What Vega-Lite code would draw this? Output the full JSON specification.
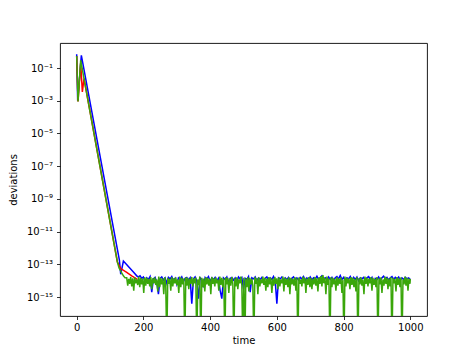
{
 "$schema": "https://vega.github.io/schema/vega-lite/v6.json",
 "width": 367, "height": 273,
 "autosize": {"type": "none"},
 "padding": {"left": 60, "top": 43, "right": 47, "bottom": 39},
 "background": "white",
 "config": {"view": {"stroke": "#000", "strokeWidth": 0.9}, "font": "DejaVu Sans"},
 "datasets": {
  "blue": [
   {"t":0,"v":0.7},{"t":3,"v":1e-3},{"t":14,"v":0.6},{"t":128,"v":1.8e-13},{"t":132,"v":2.5e-14},{"t":140,"v":1.6e-13},{"t":155,"v":7.4e-14},{"t":170,"v":3.4e-14},{"t":180,"v":2e-14},{"t":185,"v":1.7e-14},
   {"t":190,"v":2.0e-14},{"t":195,"v":1.4e-14},{"t":200,"v":1.7e-14},{"t":205,"v":9e-15},{"t":210,"v":1.5e-14},{"t":215,"v":1.2e-14},{"t":220,"v":1.8e-14},{"t":225,"v":2e-15},{"t":230,"v":1.3e-14},{"t":235,"v":1.6e-14},{"t":240,"v":8e-15},{"t":245,"v":1.5e-15},{"t":250,"v":1.4e-14},{"t":255,"v":1.7e-14},{"t":260,"v":1.1e-14},{"t":265,"v":1.5e-14},{"t":270,"v":7e-15},{"t":275,"v":1.6e-14},{"t":280,"v":1.3e-14},{"t":285,"v":1.8e-14},{"t":290,"v":1.0e-14},{"t":295,"v":1.4e-14},{"t":300,"v":6e-15},{"t":305,"v":1.5e-14},{"t":310,"v":1.2e-14},{"t":315,"v":1.7e-14},{"t":320,"v":9e-15},{"t":325,"v":1.4e-14},{"t":330,"v":1.6e-14},{"t":335,"v":1.1e-14},{"t":340,"v":1.5e-14},{"t":345,"v":4e-16},{"t":350,"v":1.3e-14},{"t":355,"v":1.7e-14},{"t":360,"v":1.0e-14},{"t":365,"v":8e-16},{"t":370,"v":1.5e-14},{"t":375,"v":1.2e-14},{"t":380,"v":4e-15},{"t":385,"v":1.6e-14},{"t":390,"v":1.3e-14},{"t":395,"v":1.8e-14},{"t":400,"v":9e-15},{"t":405,"v":1.5e-14},{"t":410,"v":1.2e-14},{"t":415,"v":1.6e-14},{"t":420,"v":1.0e-14},{"t":425,"v":1.4e-14},{"t":430,"v":2.5e-15},{"t":435,"v":8e-16},{"t":440,"v":1.5e-14},{"t":445,"v":1.2e-14},{"t":450,"v":1.7e-14},{"t":455,"v":8e-15},{"t":460,"v":1.4e-14},{"t":465,"v":1.6e-14},{"t":470,"v":1.1e-14},{"t":475,"v":1.5e-14},{"t":480,"v":9e-15},{"t":485,"v":1.7e-14},{"t":490,"v":1.3e-14},{"t":495,"v":1.6e-14},{"t":500,"v":3e-15},{"t":505,"v":1.4e-14},{"t":510,"v":1.2e-14},{"t":515,"v":1.8e-14},{"t":520,"v":2e-15},{"t":525,"v":1.5e-14},{"t":530,"v":1.3e-14},{"t":535,"v":1.7e-14},{"t":540,"v":1.0e-14},{"t":545,"v":1.5e-14},{"t":550,"v":1.2e-14},{"t":555,"v":1.6e-14},{"t":560,"v":9e-15},{"t":565,"v":1.4e-14},{"t":570,"v":1.7e-14},{"t":575,"v":1.1e-14},{"t":580,"v":1.5e-14},{"t":585,"v":1.2e-14},{"t":590,"v":1.8e-14},{"t":595,"v":1.0e-14},{"t":600,"v":4e-16},{"t":605,"v":1.5e-14},{"t":610,"v":1.3e-14},{"t":615,"v":1.7e-14},{"t":620,"v":1.1e-14},{"t":625,"v":1.5e-14},{"t":630,"v":1.2e-14},{"t":635,"v":1.6e-14},{"t":640,"v":1.0e-14},{"t":645,"v":1.4e-14},{"t":650,"v":1.7e-14},{"t":655,"v":1.2e-14},{"t":660,"v":1.5e-14},{"t":665,"v":1.1e-14},{"t":670,"v":1.6e-14},{"t":675,"v":1.3e-14},{"t":680,"v":1.8e-14},{"t":685,"v":1.0e-14},{"t":690,"v":1.5e-14},{"t":695,"v":1.2e-14},{"t":700,"v":1.7e-14},{"t":705,"v":1.1e-14},{"t":710,"v":1.5e-14},{"t":715,"v":1.3e-14},{"t":720,"v":1.9e-14},{"t":725,"v":1.2e-14},{"t":730,"v":1.6e-14},{"t":735,"v":2.0e-14},{"t":740,"v":1.3e-14},{"t":745,"v":1.5e-14},{"t":750,"v":1.1e-14},{"t":755,"v":1.7e-14},{"t":760,"v":1.2e-14},{"t":765,"v":1.6e-14},{"t":770,"v":1.0e-14},{"t":775,"v":1.5e-14},{"t":780,"v":1.8e-14},{"t":785,"v":1.3e-14},{"t":790,"v":2.1e-14},{"t":795,"v":1.2e-14},{"t":800,"v":1.6e-14},{"t":805,"v":1.1e-14},{"t":810,"v":1.5e-14},{"t":815,"v":1.3e-14},{"t":820,"v":1.8e-14},{"t":825,"v":1.1e-14},{"t":830,"v":1.6e-14},{"t":835,"v":1.2e-14},{"t":840,"v":1.7e-14},{"t":845,"v":1.0e-14},{"t":850,"v":1.5e-14},{"t":855,"v":1.3e-14},{"t":860,"v":1.6e-14},{"t":865,"v":1.1e-14},{"t":870,"v":1.5e-14},{"t":875,"v":1.8e-14},{"t":880,"v":1.2e-14},{"t":885,"v":1.6e-14},{"t":890,"v":6e-15},{"t":895,"v":1.4e-14},{"t":900,"v":1.2e-14},{"t":905,"v":1.7e-14},{"t":910,"v":1.1e-14},{"t":915,"v":1.5e-14},{"t":920,"v":1.9e-14},{"t":925,"v":1.3e-14},{"t":930,"v":1.6e-14},{"t":935,"v":1.1e-14},{"t":940,"v":1.5e-14},{"t":945,"v":1.8e-14},{"t":950,"v":1.2e-14},{"t":955,"v":1.6e-14},{"t":960,"v":1.3e-14},{"t":965,"v":1.7e-14},{"t":970,"v":1.1e-14},{"t":975,"v":1.5e-14},{"t":980,"v":1.2e-14},{"t":985,"v":1.6e-14},{"t":990,"v":1.3e-14},{"t":995,"v":1.5e-14},{"t":1000,"v":1.2e-14}
  ],
  "red": [
   {"t":0,"v":0.55},{"t":4,"v":9e-4},{"t":12,"v":0.2},{"t":17,"v":3.5e-3},{"t":22,"v":0.023},{"t":122,"v":1.4e-13},{"t":132,"v":5.6e-14},{"t":150,"v":3.2e-14},{"t":165,"v":2e-14},{"t":177,"v":1.4e-14},{"t":182,"v":1.2e-14}
  ],
  "green": [
   {"t":0,"v":0.55},{"t":4,"v":9e-4},{"t":12,"v":0.3},{"t":122,"v":1.4e-13},{"t":127,"v":6e-14},{"t":135,"v":3e-14},{"t":140,"v":2e-14},{"t":145,"v":1.5e-14},
   {"t":150,"v":1.5e-14},{"t":153,"v":5e-15},{"t":156,"v":1.3e-14},{"t":159,"v":6.5e-15},{"t":162,"v":1.7e-14},{"t":165,"v":4.5e-15},{"t":168,"v":1.4e-14},{"t":171,"v":2.5e-15},{"t":174,"v":1.6e-14},{"t":177,"v":7e-15},{"t":180,"v":1.2e-14},{"t":183,"v":5.5e-15},{"t":186,"v":1.8e-14},{"t":189,"v":4e-15},{"t":192,"v":1.5e-14},{"t":195,"v":6e-15},{"t":198,"v":1.35e-14},{"t":201,"v":1.8e-15},{"t":204,"v":1.65e-14},{"t":207,"v":5e-15},{"t":210,"v":1.5e-14},{"t":213,"v":6.5e-15},{"t":216,"v":1.3e-14},{"t":219,"v":4.5e-15},{"t":222,"v":1.7e-14},{"t":225,"v":3e-15},{"t":228,"v":1.4e-14},{"t":231,"v":7e-15},{"t":234,"v":1.6e-14},{"t":237,"v":5.5e-15},{"t":240,"v":1.2e-14},{"t":243,"v":2.2e-15},{"t":246,"v":1.8e-14},{"t":249,"v":4e-15},{"t":252,"v":1.5e-14},{"t":255,"v":6e-15},{"t":258,"v":1.35e-14},{"t":261,"v":1.5e-15},{"t":264,"v":1.65e-14},{"t":267,"v":5e-15},{"t":270,"v":1e-18},{"t":273,"v":1.5e-14},{"t":276,"v":6.5e-15},{"t":279,"v":1.3e-14},{"t":282,"v":2.5e-15},{"t":285,"v":1.7e-14},{"t":288,"v":4.5e-15},{"t":291,"v":1.4e-14},{"t":294,"v":7e-15},{"t":297,"v":1.6e-14},{"t":300,"v":5.5e-15},{"t":303,"v":1.2e-14},{"t":306,"v":1.8e-15},{"t":309,"v":1.8e-14},{"t":312,"v":4e-15},{"t":315,"v":1.5e-14},{"t":318,"v":6e-15},{"t":321,"v":1.35e-14},{"t":324,"v":1e-18},{"t":327,"v":1.65e-14},{"t":330,"v":5e-15},{"t":333,"v":1.5e-14},{"t":336,"v":3e-15},{"t":339,"v":1.3e-14},{"t":342,"v":6.5e-15},{"t":345,"v":1.7e-14},{"t":348,"v":4.5e-15},{"t":351,"v":1.4e-14},{"t":354,"v":7e-15},{"t":357,"v":1.6e-14},{"t":360,"v":1e-18},{"t":363,"v":1.2e-14},{"t":366,"v":5.5e-15},{"t":369,"v":1.8e-14},{"t":372,"v":1e-18},{"t":375,"v":1.5e-14},{"t":378,"v":4e-15},{"t":381,"v":1.35e-14},{"t":384,"v":2.2e-15},{"t":387,"v":1.65e-14},{"t":390,"v":6e-15},{"t":393,"v":1.5e-14},{"t":396,"v":5e-15},{"t":399,"v":1.3e-14},{"t":402,"v":1.5e-15},{"t":405,"v":1.7e-14},{"t":408,"v":6.5e-15},{"t":411,"v":1.4e-14},{"t":414,"v":4.5e-15},{"t":417,"v":1.6e-14},{"t":420,"v":7e-15},{"t":423,"v":1.2e-14},{"t":426,"v":2.5e-15},{"t":429,"v":1.8e-14},{"t":432,"v":5.5e-15},{"t":435,"v":1.5e-14},{"t":438,"v":4e-15},{"t":441,"v":1.35e-14},{"t":444,"v":1e-18},{"t":447,"v":1.65e-14},{"t":450,"v":6e-15},{"t":453,"v":1.5e-14},{"t":456,"v":1.8e-15},{"t":459,"v":1.3e-14},{"t":462,"v":5e-15},{"t":465,"v":1.7e-14},{"t":468,"v":6.5e-15},{"t":471,"v":1e-18},{"t":474,"v":1.4e-14},{"t":477,"v":4.5e-15},{"t":480,"v":1.6e-14},{"t":483,"v":3e-15},{"t":486,"v":1.2e-14},{"t":489,"v":7e-15},{"t":492,"v":1.8e-14},{"t":495,"v":5.5e-15},{"t":498,"v":1e-18},{"t":501,"v":1.5e-14},{"t":504,"v":1e-18},{"t":507,"v":1.35e-14},{"t":510,"v":4e-15},{"t":513,"v":1.65e-14},{"t":516,"v":2.2e-15},{"t":519,"v":1.5e-14},{"t":522,"v":6e-15},{"t":525,"v":1.3e-14},{"t":528,"v":5e-15},{"t":531,"v":1e-18},{"t":534,"v":1.7e-14},{"t":537,"v":6.5e-15},{"t":540,"v":1.4e-14},{"t":543,"v":1.5e-15},{"t":546,"v":1.6e-14},{"t":549,"v":4.5e-15},{"t":552,"v":1.2e-14},{"t":555,"v":7e-15},{"t":558,"v":1.8e-14},{"t":561,"v":5.5e-15},{"t":564,"v":1.5e-14},{"t":567,"v":2.5e-15},{"t":570,"v":1.35e-14},{"t":573,"v":4e-15},{"t":576,"v":1.65e-14},{"t":579,"v":6e-15},{"t":582,"v":1.5e-14},{"t":585,"v":1.8e-15},{"t":588,"v":1.3e-14},{"t":591,"v":5e-15},{"t":594,"v":1.7e-14},{"t":597,"v":6.5e-15},{"t":600,"v":1.4e-14},{"t":603,"v":3e-15},{"t":606,"v":1.6e-14},{"t":609,"v":4.5e-15},{"t":612,"v":1.2e-14},{"t":615,"v":7e-15},{"t":618,"v":1.8e-14},{"t":621,"v":2.2e-15},{"t":624,"v":1.5e-14},{"t":627,"v":5.5e-15},{"t":630,"v":1.35e-14},{"t":633,"v":4e-15},{"t":636,"v":1.65e-14},{"t":639,"v":1.5e-15},{"t":642,"v":1.5e-14},{"t":645,"v":6e-15},{"t":648,"v":1.3e-14},{"t":651,"v":5e-15},{"t":654,"v":1.7e-14},{"t":657,"v":2.5e-15},{"t":660,"v":1.4e-14},{"t":663,"v":1e-18},{"t":666,"v":1.6e-14},{"t":669,"v":6.5e-15},{"t":672,"v":1.2e-14},{"t":675,"v":4.5e-15},{"t":678,"v":1.8e-14},{"t":681,"v":7e-15},{"t":684,"v":1.5e-14},{"t":687,"v":1.8e-15},{"t":690,"v":1.35e-14},{"t":693,"v":5.5e-15},{"t":696,"v":1.65e-14},{"t":699,"v":4e-15},{"t":702,"v":1.5e-14},{"t":705,"v":3e-15},{"t":708,"v":1.3e-14},{"t":711,"v":6e-15},{"t":714,"v":1.7e-14},{"t":717,"v":5e-15},{"t":720,"v":1.4e-14},{"t":723,"v":2.2e-15},{"t":726,"v":1.6e-14},{"t":729,"v":6.5e-15},{"t":732,"v":1.9e-14},{"t":735,"v":4.5e-15},{"t":738,"v":2.2e-14},{"t":741,"v":7e-15},{"t":744,"v":1.5e-14},{"t":747,"v":1.5e-15},{"t":750,"v":1.8e-14},{"t":753,"v":5.5e-15},{"t":756,"v":1.35e-14},{"t":759,"v":1e-18},{"t":762,"v":1.65e-14},{"t":765,"v":4e-15},{"t":768,"v":1.5e-14},{"t":771,"v":6e-15},{"t":774,"v":1.3e-14},{"t":777,"v":2.5e-15},{"t":780,"v":1.7e-14},{"t":783,"v":5e-15},{"t":786,"v":1.4e-14},{"t":789,"v":6.5e-15},{"t":792,"v":1.6e-14},{"t":795,"v":1.8e-15},{"t":798,"v":1.2e-14},{"t":801,"v":1e-18},{"t":804,"v":1.8e-14},{"t":807,"v":4.5e-15},{"t":810,"v":1.5e-14},{"t":813,"v":7e-15},{"t":816,"v":1.35e-14},{"t":819,"v":3e-15},{"t":822,"v":1.65e-14},{"t":825,"v":5.5e-15},{"t":828,"v":1.5e-14},{"t":831,"v":4e-15},{"t":834,"v":1.3e-14},{"t":837,"v":2.2e-15},{"t":840,"v":1.7e-14},{"t":843,"v":1e-18},{"t":846,"v":1.4e-14},{"t":849,"v":6e-15},{"t":852,"v":1.6e-14},{"t":855,"v":5e-15},{"t":858,"v":1.2e-14},{"t":861,"v":1.5e-15},{"t":864,"v":1.8e-14},{"t":867,"v":6.5e-15},{"t":870,"v":1.5e-14},{"t":873,"v":4.5e-15},{"t":876,"v":1.35e-14},{"t":879,"v":7e-15},{"t":882,"v":1.65e-14},{"t":885,"v":2.5e-15},{"t":888,"v":1.5e-14},{"t":891,"v":5.5e-15},{"t":894,"v":1.3e-14},{"t":897,"v":4e-15},{"t":900,"v":1.7e-14},{"t":903,"v":1e-18},{"t":906,"v":1.4e-14},{"t":909,"v":6e-15},{"t":912,"v":1.6e-14},{"t":915,"v":1.8e-15},{"t":918,"v":1.2e-14},{"t":921,"v":5e-15},{"t":924,"v":1.8e-14},{"t":927,"v":6.5e-15},{"t":930,"v":1.5e-14},{"t":933,"v":3e-15},{"t":936,"v":1.35e-14},{"t":939,"v":4.5e-15},{"t":942,"v":1.65e-14},{"t":945,"v":1e-18},{"t":948,"v":1.5e-14},{"t":951,"v":7e-15},{"t":954,"v":1.3e-14},{"t":957,"v":2.2e-15},{"t":960,"v":1.7e-14},{"t":963,"v":5.5e-15},{"t":966,"v":1.4e-14},{"t":969,"v":4e-15},{"t":972,"v":1.6e-14},{"t":975,"v":1e-18},{"t":978,"v":1.2e-14},{"t":981,"v":6e-15},{"t":984,"v":1.8e-14},{"t":987,"v":5e-15},{"t":990,"v":1.5e-14},{"t":993,"v":2.5e-15},{"t":996,"v":1.35e-14},{"t":999,"v":6.5e-15},{"t":1000,"v":1.3e-14}
  ]
 },
 "encoding": {
  "x": {"field": "t", "type": "quantitative",
   "scale": {"domain": [-50, 1050], "nice": false, "zero": false},
   "axis": {"title": "time", "values": [0, 200, 400, 600, 800, 1000], "format": "d", "grid": false, "domain": false,
    "tickSize": 3.5, "tickColor": "#000", "tickWidth": 0.8, "labelColor": "#000", "labelFontSize": 10,
    "labelPadding": 3, "labelFlush": false, "labelFont": "DejaVu Sans", "titleFont": "DejaVu Sans",
    "titleFontSize": 10, "titleFontWeight": "normal", "titleColor": "#000", "titlePadding": 3}},
  "y": {"field": "v", "type": "quantitative",
   "scale": {"type": "log", "domain": [7e-17, 3.4], "nice": false},
   "axis": {"title": "deviations", "values": [1e-15, 1e-13, 1e-11, 1e-9, 1e-7, 1e-5, 1e-3, 1e-1],
    "labelExpr": "'10⁻' + ((-round(log(datum.value)/LN10)) >= 10 ? '¹' : '') + ['⁰','¹','²','³','⁴','⁵','⁶','⁷','⁸','⁹'][(-round(log(datum.value)/LN10)) % 10]",
    "grid": false, "domain": false, "tickSize": 3.5, "tickColor": "#000", "tickWidth": 0.8,
    "labelColor": "#000", "labelFontSize": 10, "labelPadding": 4, "labelFlush": false, "labelOverlap": false,
    "labelFont": "DejaVu Sans", "titleFont": "DejaVu Sans", "titleFontSize": 10, "titleFontWeight": "normal",
    "titleColor": "#000", "titlePadding": 8}}
 },
 "layer": [
  {"data": {"name": "blue"}, "mark": {"type": "line", "color": "#0000ff", "strokeWidth": 1.5, "clip": true}},
  {"data": {"name": "red"}, "mark": {"type": "line", "color": "#ff0000", "strokeWidth": 1.5, "clip": true}},
  {"data": {"name": "green"}, "mark": {"type": "line", "color": "#3aa60a", "strokeWidth": 1.5, "clip": true}}
 ]
}
